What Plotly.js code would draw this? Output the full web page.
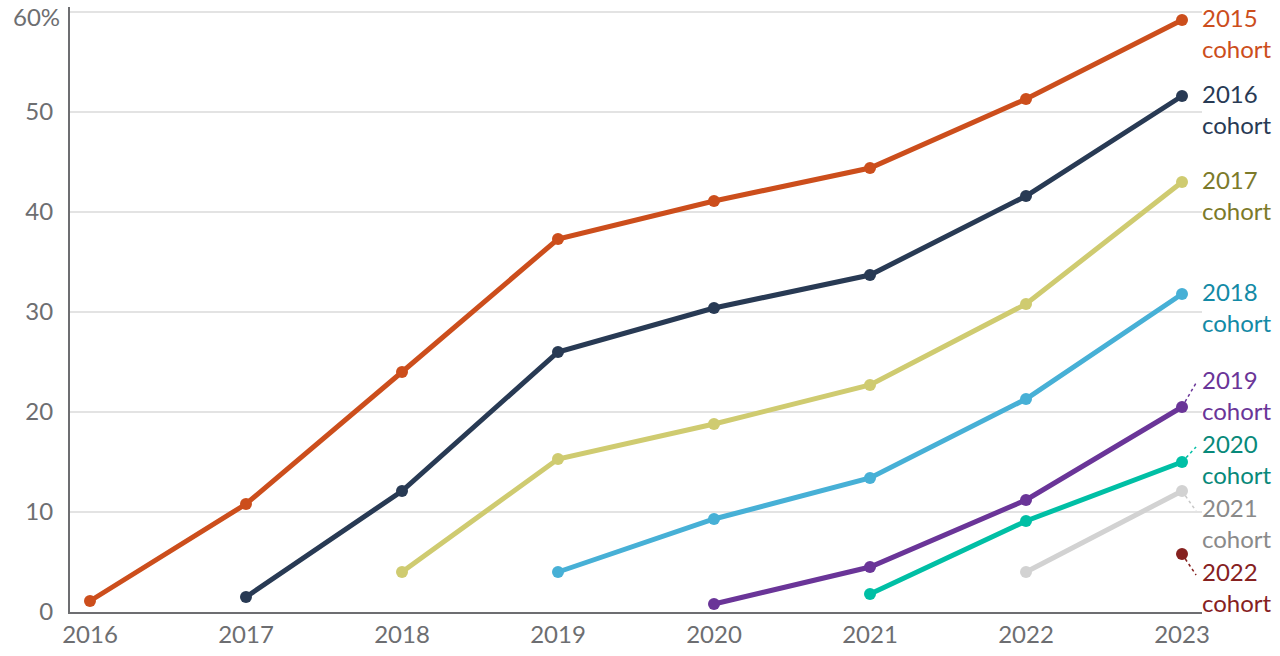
<!DOCTYPE html>
<html><head><meta charset="utf-8">
<script src="https://cdn.plot.ly/plotly-3.0.1.min.js"></script>
<style>html,body{margin:0;padding:0;background:#fff}#chart{width:1280px;height:656px}</style>
</head><body><div id="chart"></div>
<script>
const years = [2016, 2017, 2018, 2019, 2020, 2021, 2022, 2023];
const cohorts = ["2015", "2016", "2017", "2018", "2019", "2020", "2021", "2022"];
const c2015 = [1.1, 10.8, 24.0, 37.3, 41.1, 44.4, 51.3, 59.2];
const c2016 = [null, 1.5, 12.1, 26.0, 30.4, 33.7, 41.6, 51.6];
const c2017 = [null, null, 4.0, 15.3, 18.8, 22.7, 30.8, 43.0];
const c2018 = [null, null, null, 4.0, 9.3, 13.4, 21.3, 31.8];
const c2019 = [null, null, null, null, 0.8, 4.5, 11.2, 20.5];
const c2020 = [null, null, null, null, null, 1.8, 9.1, 15.0];
const c2021 = [null, null, null, null, null, null, 4.0, 12.1];
const c2022 = [null, null, null, null, null, null, null, 5.8];
const series = [c2015, c2016, c2017, c2018, c2019, c2020, c2021, c2022];
const lineColors = ["#cc4e1c", "#283a54", "#cfcb70", "#47b0d6", "#6a3598", "#00bfa5", "#d2d2d2", "#86211f"];
const textColors = ["#cc4e1c", "#283a54", "#7c7a2a", "#138aa6", "#6a3598", "#08897a", "#8a8a8a", "#86211f"];
// label vertical centre (data units) and whether a leader line is needed
const labelY = [57.95, 50.3, 41.7, 30.5, 21.7, 15.3, 8.9, 2.5];
const leader = [false, false, false, false, true, true, true, true];
const yTicks = [0, 10, 20, 30, 40, 50, 60];
const yTickText = ["0", "10", "20", "30", "40", "50", "60%"];

const font = "Lato, 'Open Sans', sans-serif";
const axisGrey = "#6d6e71";
const traces = series.map((s, i) => ({
  x: years, y: s, type: "scatter", mode: "lines+markers",
  line: {color: lineColors[i], width: 5},
  marker: {color: lineColors[i], size: 12},
  connectgaps: false, hoverinfo: "skip", showlegend: false, cliponaxis: false
}));

const annotations = cohorts.map((c, i) => ({
  xref: "paper", yref: "y", x: 1, y: labelY[i], xanchor: "left", yanchor: "middle",
  xshift: -2, text: c + "<br>cohort", showarrow: false, align: "left",
  font: {family: font, size: 24, color: textColors[i]}
}));
// top tick label drawn as annotation so it is not cut off at the page edge
const topIdx = yTicks.length - 1;
annotations.push({
  xref: "paper", yref: "y", x: 0, y: yTicks[topIdx], xanchor: "right", yanchor: "middle",
  xshift: -8, yshift: -4, text: yTickText[topIdx], showarrow: false,
  font: {family: font, size: 24, color: axisGrey}
});

const shapes = [];
series.forEach((s, i) => {
  if (!leader[i]) return;
  const last = s[s.length - 1];
  shapes.push({type: "line", xref: "x", yref: "y",
    x0: years[years.length - 1], y0: last,
    x1: years[years.length - 1] + 0.09, y1: labelY[i] + 1.2,
    line: {color: i === 6 ? "#c8c8c8" : lineColors[i], width: 1.5, dash: "dot"}, layer: "below"});
});

const layout = {
  width: 1280, height: 656,
  margin: {l: 70, r: 78, t: 7, b: 44},
  paper_bgcolor: "#fff", plot_bgcolor: "#fff",
  font: {family: font, color: axisGrey},
  xaxis: {range: [2015.872, 2023.128], tickvals: years, ticktext: years.map(String),
    showgrid: false, zeroline: false, showline: true, linecolor: axisGrey, linewidth: 2,
    ticks: "", tickfont: {family: font, size: 24, color: axisGrey}, fixedrange: true},
  yaxis: {range: [0, 60.5], tickvals: yTicks,
    ticktext: yTickText.map((t, i) => i === topIdx ? "" : t),
    showgrid: true, gridcolor: "#e3e3e3", gridwidth: 1.5, zeroline: false,
    showline: true, linecolor: axisGrey, linewidth: 2, ticks: "", ticklabelstandoff: 10,
    tickfont: {family: font, size: 24, color: axisGrey}, fixedrange: true},
  annotations: annotations, shapes: shapes
};
Plotly.newPlot("chart", traces, layout, {displayModeBar: false, staticPlot: true});
</script></body></html>
